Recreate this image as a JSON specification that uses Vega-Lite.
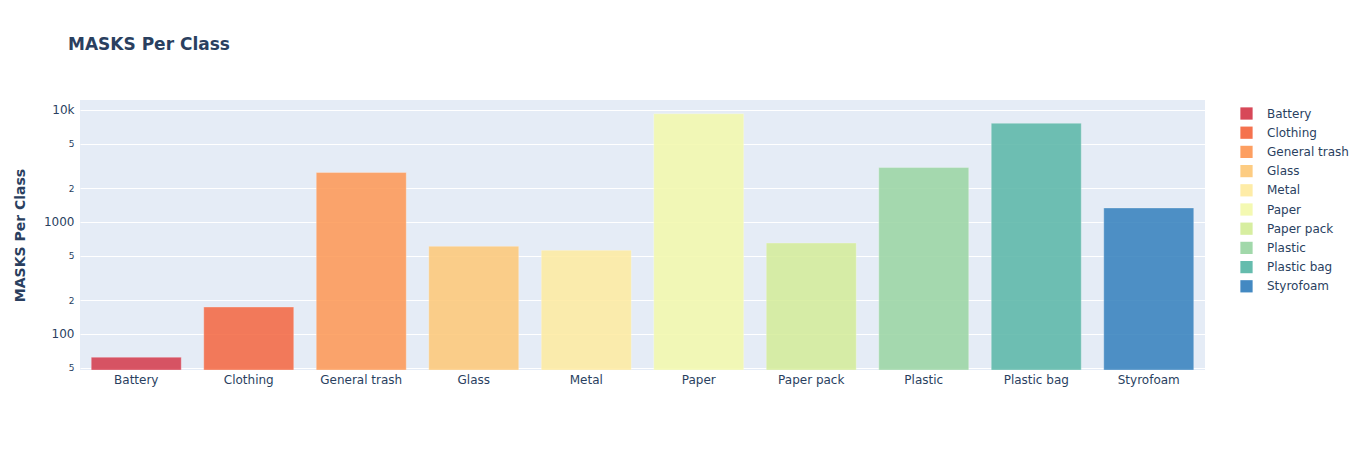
{
  "$schema": "https://vega.github.io/schema/vega-lite/v6.json",
  "autosize": {"type": "none"},
  "width": 1125,
  "height": 270,
  "padding": {"left": 80, "top": 100, "right": 162, "bottom": 80},
  "background": "white",
  "title": {
    "text": "MASKS Per Class",
    "anchor": "start",
    "frame": "group",
    "dx": -12,
    "offset": 46,
    "fontSize": 17,
    "fontWeight": "bold",
    "font": "DejaVu Sans",
    "color": "#2a3f5f"
  },
  "data": {
    "values": [
      {"class": "Battery", "count": 62},
      {"class": "Clothing", "count": 174},
      {"class": "General trash", "count": 2763},
      {"class": "Glass", "count": 607},
      {"class": "Metal", "count": 559},
      {"class": "Paper", "count": 9268},
      {"class": "Paper pack", "count": 649},
      {"class": "Plastic", "count": 3061},
      {"class": "Plastic bag", "count": 7607},
      {"class": "Styrofoam", "count": 1334}
    ]
  },
  "mark": {"type": "bar", "opacity": 0.88, "stroke": "white", "strokeWidth": 0.5, "strokeOpacity": 0.6},
  "encoding": {
    "x": {
      "field": "class",
      "type": "nominal",
      "sort": null,
      "title": null,
      "scale": {"paddingInner": 0.2, "paddingOuter": 0.1},
      "axis": {"labelAngle": 0, "ticks": false, "domain": false, "labelPadding": 4, "labelFontSize": 12, "labelColor": "#2a3f5f", "labelFont": "DejaVu Sans"}
    },
    "y": {
      "field": "count",
      "type": "quantitative",
      "title": "MASKS Per Class",
      "scale": {"type": "log", "domain": [47.7, 12280], "nice": false},
      "axis": {
        "values": [50, 100, 200, 500, 1000, 2000, 5000, 10000],
        "labelExpr": "datum.value == 10000 ? '10k' : (datum.value == 1000 || datum.value == 100) ? datum.value + '' : substring(datum.value + '', 0, 1)",
        "labelFontSize": {"condition": {"test": "datum.value == 10000 || datum.value == 1000 || datum.value == 100", "value": 12}, "value": 9},
        "labelColor": "#2a3f5f",
        "labelFont": "DejaVu Sans",
        "ticks": false,
        "domain": false,
        "labelPadding": 6,
        "gridColor": "white",
        "gridWidth": 1,
        "titleFont": "DejaVu Sans",
        "titleFontSize": 14,
        "titleFontWeight": "bold",
        "titleColor": "#2a3f5f",
        "titlePadding": 16
      }
    },
    "y2": {"datum": 47.7},
    "color": {
      "field": "class",
      "type": "nominal",
      "sort": null,
      "title": null,
      "scale": {
        "domain": ["Battery", "Clothing", "General trash", "Glass", "Metal", "Paper", "Paper pack", "Plastic", "Plastic bag", "Styrofoam"],
        "range": ["#d53e4f", "#f46a45", "#fd9a58", "#fdc97b", "#feeba2", "#f3f9ae", "#d5ed9b", "#9cd6a5", "#5db8a9", "#3983bf"]
      },
      "legend": {
        "orient": "none",
        "legendX": 1160,
        "legendY": 7,
        "symbolType": "square",
        "symbolSize": 150,
        "symbolOpacity": 0.95,
        "symbolStrokeWidth": 0,
        "labelFontSize": 12,
        "labelFont": "DejaVu Sans",
        "labelColor": "#2a3f5f",
        "labelOffset": 14,
        "rowPadding": 6.2
      }
    }
  },
  "config": {
    "view": {"stroke": null, "fill": "#e5ecf6"}
  }
}
